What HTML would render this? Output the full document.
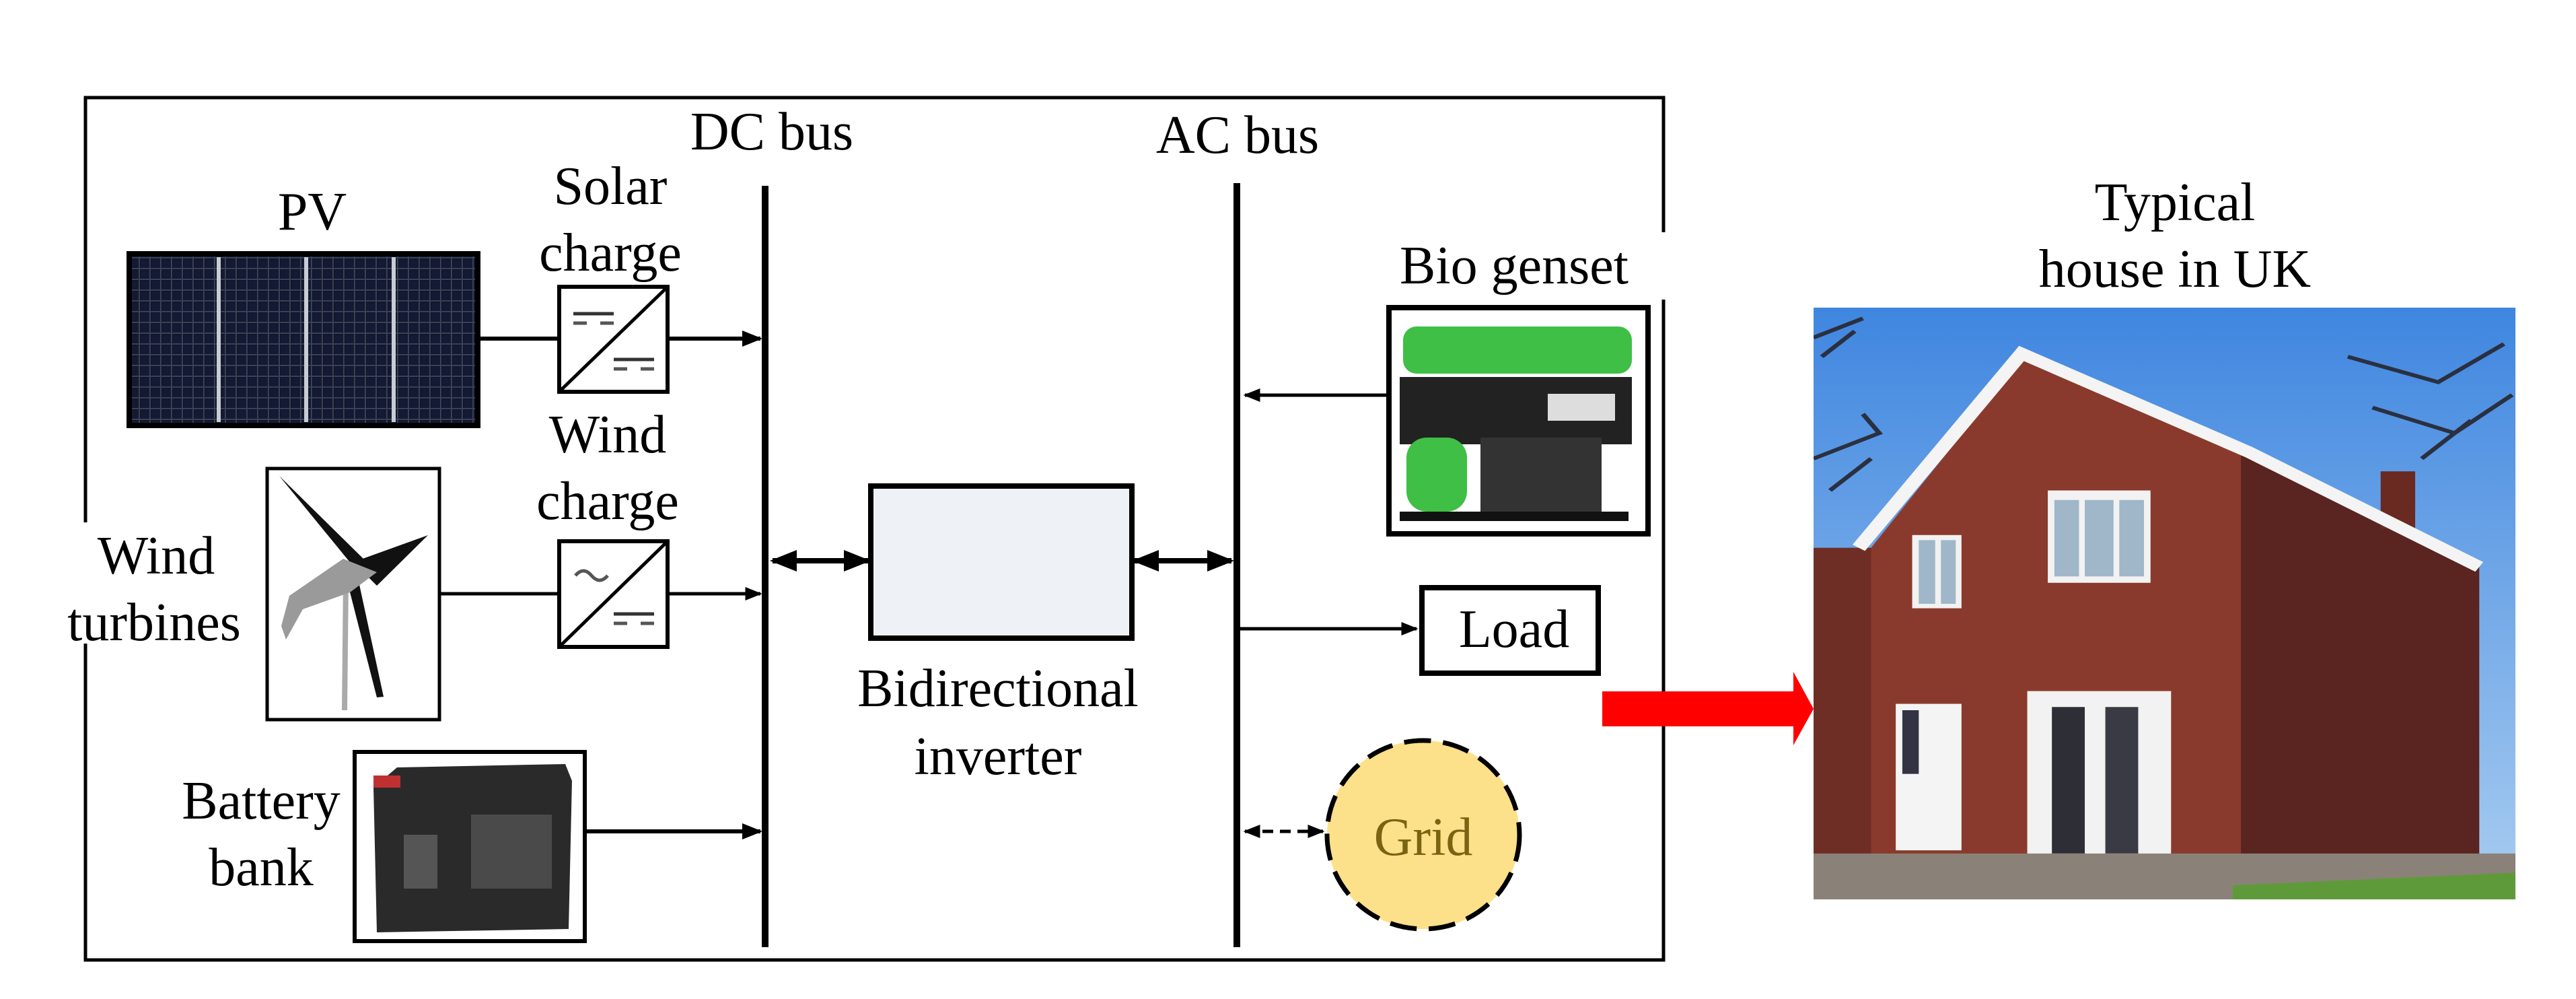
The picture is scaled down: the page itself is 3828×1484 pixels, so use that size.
<!DOCTYPE html>
<html><head><meta charset="utf-8"><style>
html,body{margin:0;padding:0;background:#fff;}
svg{display:block;}
</style></head><body>
<svg width="3828" height="1484" viewBox="0 0 3828 1484" xmlns="http://www.w3.org/2000/svg" font-family="'Liberation Serif','Times New Roman','DejaVu Serif',serif">
<defs>
<marker id="ah" viewBox="0 0 10 10" refX="9" refY="5" markerWidth="5" markerHeight="5" orient="auto-start-reverse"><path d="M0,1 L10,5 L0,9 z" fill="#000"/></marker>
<pattern id="cells" width="16" height="16" patternUnits="userSpaceOnUse"><rect width="16" height="16" fill="#0c1020"/><rect x="1" y="1" width="13" height="13" fill="#141a33"/><rect x="14" y="0" width="2" height="16" fill="#3a4258"/><rect x="0" y="14" width="16" height="2" fill="#3a4258"/></pattern>
<linearGradient id="sky" x1="0" y1="0" x2="0" y2="1"><stop offset="0" stop-color="#3f86e0"/><stop offset="1" stop-color="#a9cdf0"/></linearGradient>
</defs>
<rect width="3828" height="1484" fill="#fff"/>
<path d="M127,776 L127,145 L2472,145 L2472,345 M2472,445 L2472,1426 L127,1426 L127,956" fill="none" stroke="#000" stroke-width="5"/>
<line x1="1137" y1="276" x2="1137" y2="1407" stroke="#000" stroke-width="10"/>
<line x1="1838" y1="272" x2="1838" y2="1407" stroke="#000" stroke-width="10"/>
<g font-family="'Liberation Serif','Times New Roman','DejaVu Serif',serif" font-size="80" text-anchor="middle">
<text x="1147" y="222">DC bus</text>
<text x="1839" y="227">AC bus</text>
<text x="464" y="341">PV</text>
<text x="907" y="303">Solar</text>
<text x="907" y="402">charge</text>
<text x="903" y="672">Wind</text>
<text x="903" y="771">charge</text>
<text x="232" y="852">Wind</text>
<text x="229" y="951">turbines</text>
<text x="388" y="1216">Battery</text>
<text x="388" y="1315">bank</text>
<text x="1483" y="1049">Bidirectional</text>
<text x="1483" y="1150">inverter</text>
<text x="2250" y="421">Bio genset</text>
<text x="3232" y="327">Typical</text>
<text x="3232" y="426">house in UK</text>
</g>
<rect x="192" y="377" width="518" height="255" fill="url(#cells)" stroke="#000" stroke-width="8"/>
<rect x="322" y="382" width="6" height="245" fill="#c8ccd4"/>
<rect x="452" y="382" width="6" height="245" fill="#c8ccd4"/>
<rect x="582" y="382" width="6" height="245" fill="#c8ccd4"/>
<rect x="831" y="426" width="161" height="156" fill="#fff" stroke="#000" stroke-width="6"/>
<line x1="834" y1="579" x2="989" y2="429" stroke="#000" stroke-width="5"/>
<line x1="852" y1="466" x2="912" y2="466" stroke="#333" stroke-width="5"/><line x1="852" y1="480" x2="872" y2="480" stroke="#555" stroke-width="5"/><line x1="892" y1="480" x2="912" y2="480" stroke="#555" stroke-width="5"/>
<line x1="912" y1="534" x2="972" y2="534" stroke="#333" stroke-width="5"/><line x1="912" y1="548" x2="932" y2="548" stroke="#555" stroke-width="5"/><line x1="952" y1="548" x2="972" y2="548" stroke="#555" stroke-width="5"/>
<line x1="710" y1="503" x2="831" y2="503" stroke="#000" stroke-width="6"/>
<line x1="992" y1="503" x2="1130" y2="503" stroke="#000" stroke-width="6" marker-end="url(#ah)"/>
<rect x="831" y="804" width="161" height="157" fill="#fff" stroke="#000" stroke-width="6"/>
<line x1="834" y1="958" x2="989" y2="807" stroke="#000" stroke-width="5"/>
<path d="M855,855 q12,-14 24,0 t24,0" fill="none" stroke="#555" stroke-width="5"/>
<line x1="912" y1="912" x2="972" y2="912" stroke="#333" stroke-width="5"/><line x1="912" y1="926" x2="932" y2="926" stroke="#555" stroke-width="5"/><line x1="952" y1="926" x2="972" y2="926" stroke="#555" stroke-width="5"/>
<line x1="653" y1="882" x2="831" y2="882" stroke="#000" stroke-width="5"/>
<line x1="992" y1="882" x2="1130" y2="882" stroke="#000" stroke-width="5" marker-end="url(#ah)"/>
<rect x="397" y="696" width="256" height="373" fill="#fff" stroke="#000" stroke-width="5"/>
<line x1="514" y1="860" x2="512" y2="1055" stroke="#aaa" stroke-width="8"/>
<path d="M415,707 L540,830 L528,845 Z" fill="#111"/>
<path d="M525,835 L636,795 L560,870 Z" fill="#111"/>
<path d="M530,850 L570,1035 L560,1036 L515,860 Z" fill="#111"/>
<path d="M430,885 L510,830 L560,850 L520,880 L450,905 L425,950 L418,930 Z" fill="#9a9a9a"/>
<rect x="527" y="1117" width="342" height="281" fill="#fff" stroke="#000" stroke-width="6"/>
<path d="M555,1170 L590,1140 L840,1135 L850,1160 L845,1380 L560,1385 Z" fill="#2a2a2a"/>
<rect x="555" y="1152" width="40" height="18" fill="#c03030"/>
<rect x="600" y="1240" width="50" height="80" fill="#555"/>
<rect x="700" y="1210" width="120" height="110" fill="#4a4a4a"/>
<line x1="869" y1="1235" x2="1130" y2="1235" stroke="#000" stroke-width="6" marker-end="url(#ah)"/>
<rect x="1294" y="722" width="388" height="226" fill="#eef2f7" stroke="#000" stroke-width="8"/>
<line x1="1148" y1="833" x2="1290" y2="833" stroke="#000" stroke-width="8" marker-start="url(#ah)" marker-end="url(#ah)"/>
<line x1="1686" y1="833" x2="1830" y2="833" stroke="#000" stroke-width="8" marker-start="url(#ah)" marker-end="url(#ah)"/>
<rect x="2064" y="457" width="385" height="336" fill="#fff" stroke="#000" stroke-width="8"/>
<rect x="2085" y="485" width="340" height="70" rx="20" fill="#3fbf45"/>
<rect x="2080" y="560" width="345" height="100" fill="#222"/>
<rect x="2090" y="650" width="90" height="110" rx="30" fill="#3fbf45"/>
<rect x="2200" y="650" width="180" height="110" fill="#333"/>
<rect x="2080" y="760" width="340" height="14" fill="#111"/>
<rect x="2300" y="585" width="100" height="40" fill="#ddd"/>
<line x1="1850" y1="587" x2="2064" y2="587" stroke="#000" stroke-width="5" marker-start="url(#ah)"/>
<rect x="2113" y="873" width="262" height="127" fill="#fff" stroke="#000" stroke-width="8"/>
<text x="2250" y="961" font-size="80" text-anchor="middle" font-family="'Liberation Serif','Times New Roman',serif">Load</text>
<line x1="1843" y1="934" x2="2105" y2="934" stroke="#000" stroke-width="5" marker-end="url(#ah)"/>
<line x1="1850" y1="1235" x2="1966" y2="1235" stroke="#000" stroke-width="5" stroke-dasharray="16,10" marker-start="url(#ah)" marker-end="url(#ah)"/>
<ellipse cx="2115" cy="1240" rx="143" ry="140" fill="#fde08a" stroke="#000" stroke-width="7" stroke-dasharray="40,18"/>
<text x="2115" y="1270" font-size="80" text-anchor="middle" fill="#7a6312" font-family="'Liberation Serif','Times New Roman',serif">Grid</text>
<path d="M2381,1027 L2665,1027 L2665,998 L2695,1053 L2665,1107 L2665,1079 L2381,1079 Z" fill="#ff0000"/>
<svg x="2695" y="457" width="1043" height="879" viewBox="640 483 854 929" preserveAspectRatio="none">
<rect x="640" y="483" width="854" height="929" fill="url(#sky)"/>
<path d="M640,530 L700,500 M650,560 L690,520 M640,720 L720,680 L700,650 M660,770 L710,720 M1290,560 L1400,600 L1480,540 M1320,640 L1420,680 L1490,620 M1380,720 L1440,660" stroke="#2a3040" stroke-width="6" fill="none"/>
<rect x="640" y="860" width="75" height="500" fill="#6e2e26"/>
<polygon points="1150,700 1450,890 1450,1390 1150,1390" fill="#5a2420"/>
<rect x="1330" y="740" width="42" height="90" fill="#6a2a22"/>
<polygon points="710,860 893,565 1160,705 1160,1360 710,1360" fill="#8a3a2c"/>
<path d="M695,860 L893,555 L1170,710 L1450,890" stroke="#f4f4f4" stroke-width="18" fill="none"/>
<rect x="760" y="840" width="60" height="115" fill="#f2f2f2"/><rect x="768" y="848" width="20" height="100" fill="#9fb7c8"/><rect x="795" y="848" width="18" height="100" fill="#9fb7c8"/>
<rect x="925" y="770" width="125" height="145" fill="#f2f2f2"/><rect x="933" y="785" width="30" height="120" fill="#9fb7c8"/><rect x="970" y="785" width="35" height="120" fill="#9fb7c8"/><rect x="1012" y="785" width="30" height="120" fill="#9fb7c8"/>
<rect x="740" y="1105" width="80" height="230" fill="#f4f4f4"/><rect x="748" y="1115" width="20" height="100" fill="#334"/>
<rect x="900" y="1085" width="175" height="275" fill="#f2f2f2"/><rect x="930" y="1110" width="40" height="230" fill="#2e2e36"/><rect x="995" y="1110" width="40" height="230" fill="#3a3a44"/>
<rect x="640" y="1340" width="854" height="72" fill="#8a8278"/>
<polygon points="1150,1390 1494,1370 1494,1412 1150,1412" fill="#5f9a3a"/>
</svg>
</svg>
</body></html>
